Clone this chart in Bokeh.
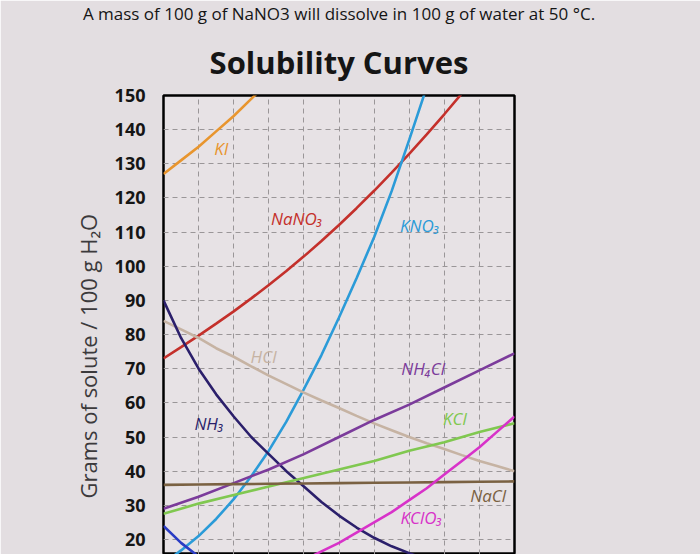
from bokeh.plotting import figure
from bokeh.models import Label, FixedTicker, Range1d, Title
from bokeh.embed import file_html
from bokeh.resources import INLINE

# ---- data (temperature °C -> grams of solute / 100 g water) ----
temps = [0, 10, 20, 30, 40, 50, 60, 70, 80, 90, 100]

ki_t = [0, 5, 10, 15, 20, 25, 30]
ki_v = [127, 131, 135, 139.5, 144, 149, 154]

nano3_t = [0, 5, 10, 15, 20, 25, 30, 35, 40, 45, 50, 55, 60, 65, 70, 75, 80, 85, 90]
nano3_v = [73, 76.3, 79.7, 83.2, 86.8, 90.6, 94.5, 98.6, 102.9, 107.4, 112.1, 117, 122.1,
           127.4, 132.9, 138.6, 144.5, 150.6, 157]

kno3_t = [0, 5, 10, 15, 20, 25, 30, 35, 40, 45, 50, 55, 60, 65, 70, 75, 80]
kno3_v = [13, 16.8, 21, 26, 31.8, 38.5, 46, 54.5, 64, 74, 85, 96.5, 108.5, 122, 137, 152.5, 169]

hcl_t = [0, 5, 10, 15, 20, 25, 30, 35, 40, 45, 50, 55, 60, 65, 70, 75, 80, 85, 90, 95, 100]
hcl_v = [84, 81.5, 79, 76, 73.5, 70.7, 68, 65.5, 63, 60.7, 58.5, 56.2, 54, 52, 50, 48.2,
         46.5, 44.7, 43, 41.5, 40]

nh3_t = [0, 5, 10, 15, 20, 25, 30, 35, 40, 45, 50, 55, 60, 65, 70, 80]
nh3_v = [90, 79, 70, 62.5, 56, 50, 45, 40, 35.5, 31, 27, 23.5, 20.5, 18, 16, 12]

nh4cl_v = [29, 32.5, 36.5, 40.5, 45, 50, 55, 59.5, 64.5, 69.5, 74.5]
kcl_v = [27.5, 30.5, 33, 35.5, 38, 40.5, 43, 46, 48.5, 51.5, 54]
nacl_v = [36, 36.1, 36.2, 36.3, 36.4, 36.5, 36.6, 36.7, 36.8, 36.9, 37]

kclo3_t = [30, 40, 45, 50, 55, 60, 65, 70, 75, 80, 85, 90, 95, 100]
kclo3_v = [10, 14, 16.5, 19, 22, 25, 28, 31.5, 35, 39, 43, 47, 51.5, 56]

ce_t = [0, 5, 10, 20]
ce_v = [24, 19, 15, 9]

y_ticks = [20, 30, 40, 50, 60, 70, 80, 90, 100, 110, 120, 130, 140, 150]
x_ticks = [0, 10, 20, 30, 40, 50, 60, 70, 80, 90, 100]

series = [
    ("KI", ki_t, ki_v, "#e8952e"),
    ("NaNO₃", nano3_t, nano3_v, "#c4302b"),
    ("KNO₃", kno3_t, kno3_v, "#2b9bd8"),
    ("HCl", hcl_t, hcl_v, "#c6b3a3"),
    ("NH₃", nh3_t, nh3_v, "#2b1f6b"),
    ("NH₄Cl", temps, nh4cl_v, "#7b3b9b"),
    ("KCl", temps, kcl_v, "#80c850"),
    ("NaCl", temps, nacl_v, "#7a6142"),
    ("KClO₃", kclo3_t, kclo3_v, "#d832c9"),
    ("Ce₂(SO₄)₃", ce_t, ce_v, "#2a3cc4"),
]

labels = [
    ("KI", 16.5, 134.5, "#e8952e"),
    ("NaNO₃", 38, 114, "#c4302b"),
    ("KNO₃", 73, 112, "#2b9bd8"),
    ("HCl", 28.5, 73.5, "#c6b3a3"),
    ("NH₃", 13, 54, "#2b1f6b"),
    ("NH₄Cl", 74, 70, "#7b3b9b"),
    ("KCl", 83, 55.5, "#80c850"),
    ("NaCl", 92.5, 33, "#7a6142"),
    ("KClO₃", 73.5, 26.5, "#d832c9"),
]

BG = "#e3dee1"

p = figure(width=700, height=554, output_backend="svg", toolbar_location=None,
           x_range=Range1d(0, 100), y_range=Range1d(15.6, 150),
           min_border_left=163, min_border_right=186, min_border_top=95, min_border_bottom=0)
p.background_fill_color = "#e7e2e5"
p.border_fill_color = BG
p.outline_line_color = "black"
p.outline_line_width = 2.5

# outermost title line (top of page)
p.title.text = "A mass of 100 g of NaNO3 will dissolve in 100 g of water at 50 °C."
p.title.align = "center"
p.title.vertical_align = "top"
p.title.text_font = "Open Sans"
p.title.text_font_style = "normal"
p.title.text_font_size = "17px"
p.title.text_color = "#151515"
p.title.standoff = 0

main_title = Title(text="Solubility Curves", align="center",
                   text_font="Open Sans", text_font_style="bold",
                   text_font_size="31px", text_color="#151515", standoff=25)
p.add_layout(main_title, "above")

ylab = Title(text="Grams of solute / 100 g H₂O", align="left", offset=56,
             text_font="Open Sans", text_font_style="normal",
             text_font_size="22px", text_color="#3c3a3c", standoff=18)
p.add_layout(ylab, "left")

p.xaxis.visible = False
p.xaxis.ticker = FixedTicker(ticks=x_ticks)
p.xgrid.ticker = FixedTicker(ticks=x_ticks)
p.yaxis.ticker = FixedTicker(ticks=y_ticks)
p.ygrid.ticker = FixedTicker(ticks=y_ticks)
for g in (p.xgrid, p.ygrid):
    g.grid_line_color = "#9a9698"
    g.grid_line_dash = "5 4"
    g.grid_line_width = 1

ax = p.yaxis[0]
ax.axis_line_color = None
ax.major_tick_line_color = None
ax.minor_tick_line_color = None
ax.major_label_text_font = "Open Sans"
ax.major_label_text_font_style = "bold"
ax.major_label_text_font_size = "18px"
ax.major_label_text_color = "#151515"
ax.major_label_standoff = 12

for name, xs, ys, c in series:
    p.line(xs, ys, line_color=c, line_width=2.6)

for text, x, y, c in labels:
    p.add_layout(Label(x=x, y=y, text=text, text_color=c, text_font="Open Sans",
                       text_font_style="italic", text_font_size="17px",
                       text_align="center", text_baseline="middle"))

open("out.html", "w").write(file_html(p, INLINE))
